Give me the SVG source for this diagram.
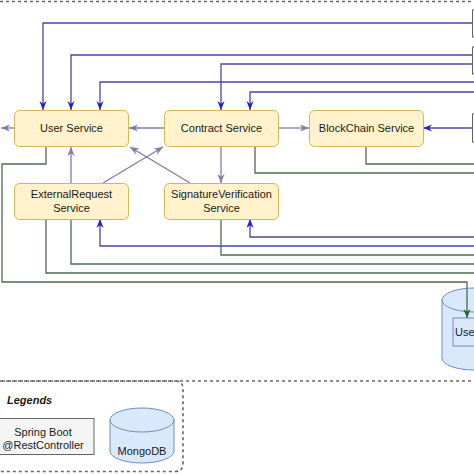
<svg xmlns="http://www.w3.org/2000/svg" width="474" height="474" viewBox="0 0 474 474">
<style>
.node rect{fill:#fff2cc;stroke:#d6b656;stroke-width:1}
text{font-family:"Liberation Sans",Arial,sans-serif;font-size:11px;fill:#1a1a1a}
.c{text-anchor:middle}
.blue{fill:none;stroke:#4f44a4;stroke-width:1.3}
.pur{fill:none;stroke:#8878a8;stroke-width:1.3}
.grn{fill:none;stroke:#4d6b4f;stroke-width:1.3}
.ctl{fill:#f5f5f5;stroke:#666;stroke-width:1}
.db{fill:#dae8fc;stroke:#6c8ebf;stroke-width:1}
.dot{fill:none;stroke:#666;stroke-width:1.6;stroke-dasharray:3 3}
</style>
<defs>
<marker id="mb" viewBox="0 0 10 10" refX="10" refY="5" markerWidth="9" markerHeight="9" markerUnits="userSpaceOnUse" orient="auto"><path d="M0,1 L10,5 L0,9 L3,5 z" fill="#3020b0"/></marker>
<marker id="mp" viewBox="0 0 10 10" refX="10" refY="5" markerWidth="9" markerHeight="9" markerUnits="userSpaceOnUse" orient="auto"><path d="M0,1 L10,5 L0,9 L3,5 z" fill="#8878a8"/></marker>
<marker id="mg" viewBox="0 0 10 10" refX="10" refY="5" markerWidth="9" markerHeight="9" markerUnits="userSpaceOnUse" orient="auto"><path d="M0,1 L10,5 L0,9 L3,5 z" fill="#1e6b1e"/></marker>
</defs>
<!-- separators -->
<line class="dot" x1="0" y1="1.5" x2="474" y2="1.5"/>
<line class="dot" x1="0" y1="381" x2="474" y2="381"/>
<!-- controllers on right edge -->
<g id="ctl1"><rect class="ctl" x="472.5" y="10" width="100" height="27"/></g>
<g id="ctl2"><rect class="ctl" x="472.5" y="47" width="100" height="27"/></g>
<g id="ctl3"><rect class="ctl" x="472.5" y="114" width="100" height="28"/></g>
<!-- MongoDB right -->
<g id="db-user">
<path class="db" d="M442,300 A32,12 0 0 1 506,300 V358 A32,12 0 0 1 442,358 Z"/>
<path class="db" d="M442,300 A32,12 0 0 0 506,300"/>
<rect class="db" x="453" y="318" width="42" height="28"/>
<text x="455" y="336">Use</text>
</g>
<g id="connectors">
<path class="blue" d="M472,23 H43 V110" marker-end="url(#mb)"/>
<path class="blue" d="M472,55 H71 V110" marker-end="url(#mb)"/>
<path class="blue" d="M474,82 H100 V110" marker-end="url(#mb)"/>
<path class="blue" d="M472,64 H221 V110" marker-end="url(#mb)"/>
<path class="blue" d="M474,92 H250 V110" marker-end="url(#mb)"/>
<path class="blue" d="M472,128 H423" marker-end="url(#mb)"/>
<path class="blue" d="M474,237 H250 V219" marker-end="url(#mb)"/>
<path class="blue" d="M474,246 H100 V219" marker-end="url(#mb)"/>
<path class="pur" d="M164,128 H129" marker-end="url(#mp)"/>
<path class="pur" d="M14,128 H1" marker-end="url(#mp)"/>
<path class="pur" d="M278,128 H309" marker-end="url(#mp)"/>
<path class="pur" d="M71,183 V147" marker-end="url(#mp)"/>
<path class="pur" d="M103,183 L163,147" marker-end="url(#mp)"/>
<path class="pur" d="M190,183 L130,147" marker-end="url(#mp)"/>
<path class="pur" d="M221,147 V183" marker-end="url(#mp)"/>
<path class="grn" d="M46,147 V164 H2 V282 H467 V318" marker-end="url(#mg)"/>
<path class="grn" d="M255,147 V173 H474"/>
<path class="grn" d="M366,147 V164 H474"/>
<path class="grn" d="M46,219 V273 H474"/>
<path class="grn" d="M71,219 V264 H474"/>
<path class="grn" d="M221,219 V255 H474"/>
</g>
<g id="user-service" class="node"><rect x="14.5" y="110.5" width="114" height="36" rx="5"/><text class="c" x="71.5" y="132">User Service</text></g>
<g id="contract-service" class="node"><rect x="164.5" y="110.5" width="114" height="36" rx="5"/><text class="c" x="221.5" y="132">Contract Service</text></g>
<g id="blockchain-service" class="node"><rect x="309.5" y="110.5" width="114" height="36" rx="5"/><text class="c" x="366.5" y="132">BlockChain Service</text></g>
<g id="external-request-service" class="node"><rect x="14.5" y="183.5" width="114" height="36" rx="5"/><text class="c" x="71.5" y="198">ExternalRequest</text><text class="c" x="71.5" y="211.5">Service</text></g>
<g id="signature-verification-service" class="node"><rect x="164.5" y="183.5" width="114" height="36" rx="5"/><text class="c" x="221.5" y="198">SignatureVerification</text><text class="c" x="221.5" y="211.5">Service</text></g>
<!-- legend -->
<g id="legend">
<path class="dot" d="M-10,381 H175 Q183,381 183,389 V463.5 Q183,471.5 175,471.5 H-10"/>
<text x="7" y="404" style="font-weight:bold;font-style:italic">Legends</text>
<rect class="ctl" x="-8" y="418.5" width="102" height="36"/>
<text class="c" x="43" y="435.5">Spring Boot</text>
<text class="c" x="43" y="448.5">@RestController</text>
<path class="db" d="M110,420 A32,12 0 0 1 174,420 V451 A32,12 0 0 1 110,451 Z"/>
<path class="db" d="M110,420 A32,12 0 0 0 174,420"/>
<text class="c" x="142" y="455">MongoDB</text>
</g>
</svg>
